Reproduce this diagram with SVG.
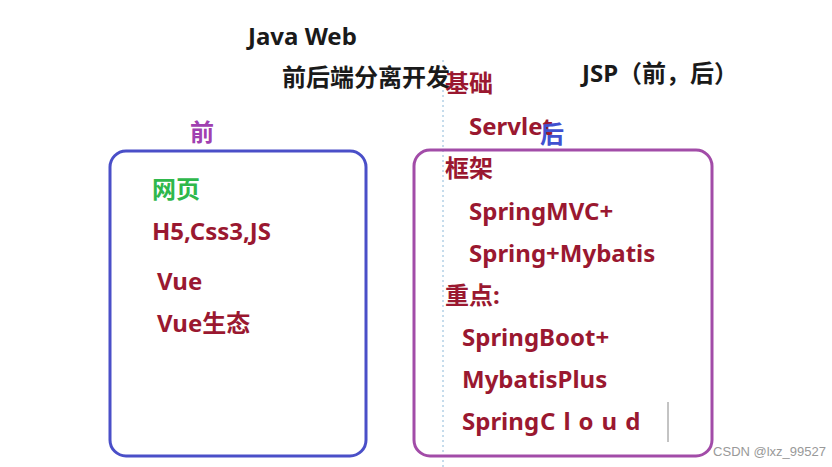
<svg xmlns="http://www.w3.org/2000/svg" width="832" height="467" viewBox="0 0 832 467">
<style>
text{font-family:"Noto Sans","Noto Sans CJK SC",sans-serif;font-weight:bold;font-size:24px}
.k{fill:#1a1a1a}.r{fill:#9a1830}
</style>
<rect width="832" height="467" fill="#fff"/>
<g id="connectors"><line x1="443" y1="60" x2="443" y2="467" stroke="#8ab8d8" stroke-width="1" stroke-dasharray="2,3"/></g>
<g id="title"><text x="248" y="45" class="k">Java Web</text>
<text x="282" y="86" class="k">前后端分离开发</text>
<text x="582" y="82" class="k">JSP（前，后）</text></g>
<g id="front">
<rect x="110" y="151" width="256" height="305" rx="16" fill="none" stroke="#4a4fc8" stroke-width="3"/>
<text x="190" y="141" fill="#a040b0" font-size="21">前</text>
<text x="152" y="198" fill="#2fb84c" font-size="21">网页</text>
<text x="152" y="240" class="r">H5,Css3,JS</text>
<text x="157" y="290" class="r">Vue</text>
<text x="157" y="332" class="r">Vue生态</text>
</g>
<g id="back">
<rect x="414" y="150" width="298" height="306" rx="16" fill="none" stroke="#a24ca8" stroke-width="3"/>
<text x="445" y="92" class="r">基础</text>
<text x="469" y="135" class="r">Servlet</text>
<text x="540" y="143" fill="#4050d0" font-size="21">后</text>
<text x="445" y="177" class="r">框架</text>
<text x="469" y="220" class="r">SpringMVC+</text>
<text x="469" y="262" class="r">Spring+Mybatis</text>
<text x="445" y="304" class="r">重点:</text>
<text x="462" y="346" class="r">SpringBoot+</text>
<text x="462" y="388" class="r">MybatisPlus</text>
<text x="462" y="430" class="r">Spring<tspan x="540" letter-spacing="8">Cloud</tspan></text>
<line x1="668" y1="402" x2="668" y2="442" stroke="#888" stroke-width="1"/>
</g>
<text x="826" y="456" text-anchor="end" font-family="Liberation Sans,sans-serif" font-size="13" fill="#999" style="font-weight:normal;font-family:'Liberation Sans',sans-serif;font-size:13px">CSDN @lxz_99527</text>
</svg>
